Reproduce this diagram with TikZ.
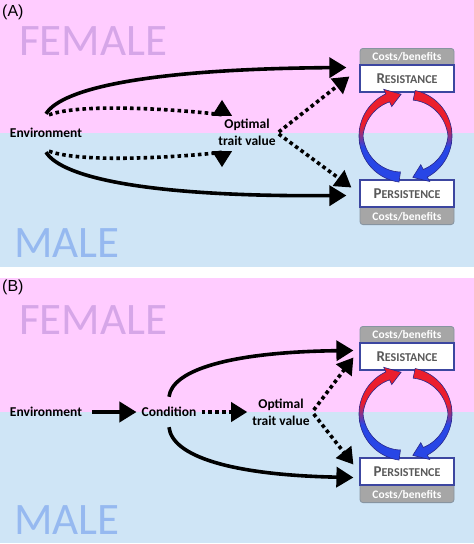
\documentclass[tikz,border=0pt]{standalone}
\usepackage{fontspec}
\setmainfont{Carlito}
\newfontfamily\tagfont{Liberation Sans}
\usetikzlibrary{arrows.meta,calc}

\definecolor{femalebg}{RGB}{255,204,255}
\definecolor{malebg}{RGB}{207,229,246}
\definecolor{femaletxt}{RGB}{214,166,232}
\definecolor{maletxt}{RGB}{150,185,240}
\definecolor{costgray}{RGB}{166,166,166}
\definecolor{costedge}{RGB}{135,148,160}
\definecolor{boxedge}{RGB}{60,70,160}
\definecolor{boxtxt}{RGB}{89,89,89}
\definecolor{arrred}{RGB}{235,30,45}
\definecolor{arrblue}{RGB}{40,70,230}
\definecolor{arredge}{RGB}{40,40,140}

\pgfdeclareverticalshading{redblue}{100bp}{color(0bp)=(arrblue); color(44bp)=(arrblue); color(56bp)=(arrred); color(100bp)=(arrred)}

\newcommand{\smallcap}[2]{{\fontsize{15}{17}\selectfont #1}{\fontsize{12}{14}\selectfont #2}}

% the two curved arrows between the boxes
\newcommand{\cyclearrows}{%
  \begin{scope}[shift={(405.5,136)}]
    \path[cyclearrow]
      plot[domain=262:115,samples=40] ({46.5*cos(\x)},{-46.5*sin(\x)})
      -- ({51.5*cos(115)},{-51.5*sin(115)})
      -- ({42*cos(96)},{-42*sin(96)})
      -- ({32.5*cos(115)},{-32.5*sin(115)})
      -- plot[domain=115:262,samples=40] ({(42.5-0.075*abs(\x-180))*cos(\x)},{-(42.5-0.075*abs(\x-180))*sin(\x)})
      -- cycle;
    \path[cyclearrow]
      plot[domain=78:-62,samples=40] ({46.5*cos(\x)},{-46.5*sin(\x)})
      -- ({51.5*cos(-62)},{-51.5*sin(-62)})
      -- ({42*cos(-80)},{-42*sin(-80)})
      -- ({32.5*cos(-62)},{-32.5*sin(-62)})
      -- plot[domain=-62:78,samples=40] ({(42.5-0.075*abs(\x))*cos(\x)},{-(42.5-0.075*abs(\x))*sin(\x)})
      -- cycle;
  \end{scope}}

\tikzset{
  flowarrow/.style={line width=3.6pt,-{Triangle[width=20pt,length=17pt]}},
  dotarrow/.style={line width=3.6pt,dash pattern=on 3.6pt off 3.2pt,-{Triangle[width=19pt,length=16pt]}},
  lbl/.style={font=\bfseries\fontsize{13.5}{17}\selectfont,inner sep=0pt,align=center},
  sexlabel/.style={font=\fontsize{45}{50}\selectfont,anchor=base west,inner sep=0pt,text depth=0pt},
  tag/.style={font=\tagfont\fontsize{16}{18}\selectfont,anchor=west,inner sep=0pt},
  costbox/.style={fill=costgray,draw=costedge,line width=0.8pt,rounded corners=3pt,minimum width=94pt,inner sep=0pt,text=white,font=\bfseries\fontsize{11.5}{13}\selectfont},
  rolebox/.style={fill=white,draw=boxedge,line width=1.2pt,minimum width=94pt,minimum height=27pt,inner sep=0pt,text=boxtxt,font=\bfseries},
  cyclearrow/.style={shade,shading=redblue,draw=arredge,line width=0.6pt}
}

\begin{document}
\begin{tikzpicture}[x=1pt,y=-1pt]
\useasboundingbox (0,0) rectangle (474,544);
\fill[white] (0,0) rectangle (474,544);

% (A)
\fill[femalebg] (0,0) rectangle (474,133);
\fill[malebg] (0,133) rectangle (474,267);
\node[tag] (tagA) at (2,12) {(A)};
\node[sexlabel,text=femaletxt] (femA) at (19,55) {FEMALE};
\node[sexlabel,text=maletxt] (malA) at (14,257) {MALE};
\node[costbox,anchor=north,text height=12.5pt,text depth=9.5pt] (costA1) at (407,48) {Costs/benefits};
\node[costbox,anchor=south,text height=17.5pt,text depth=4.5pt] (costA2) at (407,225) {Costs/benefits};
\node[rolebox] (resA) at (407,78.5) {\smallcap{R}{ESISTANCE}};
\node[rolebox] (perA) at (407,193.5) {\smallcap{P}{ERSISTENCE}};
\cyclearrows
\node[lbl,minimum height=38pt] (envA) at (46,133) {Environment};
\node[lbl,minimum height=34pt] (optA) at (247,132) {Optimal\\trait value};
\draw[flowarrow] (envA.north) .. controls (62,88) and (150,69) .. ($(resA.west)+(-13,-11)$);
\draw[flowarrow] (envA.south) .. controls (62,178) and (150,197) .. ($(perA.west)+(-13,2)$);
\draw[dotarrow] ($(envA.north)+(3,1)$) .. controls (90,100) and (222,114) .. ($(optA.north)+(-25,-15)$);
\draw[dotarrow] ($(envA.south)+(3,-1)$) .. controls (90,166) and (222,153) .. ($(optA.south)+(-25,18)$);
\draw[dotarrow] ($(optA.east)+(3,0)$) -- ($(resA.west)+(-10,-2)$);
\draw[dotarrow] ($(optA.east)+(3,2)$) -- ($(perA.west)+(-8,-6)$);

% (B)
\begin{scope}[shift={(0,278)}]
\fill[femalebg] (0,0) rectangle (474,134);
\fill[malebg] (0,134) rectangle (474,265);
\node[tag] (tagB) at (2,9) {(B)};
\node[sexlabel,text=femaletxt] (femB) at (19,56) {FEMALE};
\node[sexlabel,text=maletxt] (malB) at (14,256) {MALE};
\node[costbox,anchor=north,text height=12.5pt,text depth=9.5pt] (costB1) at (407,48) {Costs/benefits};
\node[costbox,anchor=south,text height=17.5pt,text depth=4.5pt] (costB2) at (407,225) {Costs/benefits};
\node[rolebox] (resB) at (407,78.5) {\smallcap{R}{ESISTANCE}};
\node[rolebox] (perB) at (407,193.5) {\smallcap{P}{ERSISTENCE}};
\cyclearrows
\node[lbl] (envB) at (46,134) {Environment};
\node[lbl,minimum height=30pt] (condB) at (169,134) {Condition};
\node[lbl,minimum height=34pt] (optB) at (281,134) {Optimal\\trait value};
\draw[flowarrow] ([xshift=10pt]envB.east) -- ([xshift=-5pt]condB.west);
\draw[dotarrow] ([xshift=5pt]condB.east) -- ([xshift=-5pt]optB.west);
\draw[flowarrow] (condB.north) .. controls (172,92) and (230,74) .. ($(resB.west)+(-6,-6)$);
\draw[flowarrow] (condB.south) .. controls (172,178) and (230,197) .. ($(perB.west)+(-6,6)$);
\draw[dotarrow] ($(optB.east)+(4,-2)$) -- ($(resB.west)+(-6,1)$);
\draw[dotarrow] ($(optB.east)+(4,2)$) -- ($(perB.west)+(-6,-7)$);
\end{scope}
\end{tikzpicture}
\end{document}
